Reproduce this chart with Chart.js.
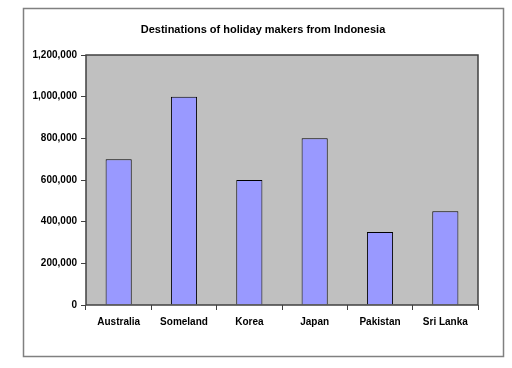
<!DOCTYPE html>
<html>
<head>
	<meta charset="utf-8">
	<title>Destinations of holiday makers from Indonesia</title>
	<script src="https://cdn.jsdelivr.net/npm/chart.js@4.4.0/dist/chart.umd.min.js"></script>
	<style>
		body { margin: 0; background: #fff; }
	</style>
</head>
<body>

	<canvas id="mychart" width="512" height="368"></canvas>

	<script type="text/javascript">

		const countries = ['Australia', 'Someland', 'Korea', 'Japan', 'Pakistan', 'Sri Lanka'];
		const visitors = [700000, 1000000, 600000, 800000, 350000, 450000];
		const chartTitle = 'Destinations of holiday makers from Indonesia';

		// frame round the whole chart, grey plot area with its border, and the title
		// (title drawn here because it is centred on the outer frame, not on the plot)
		const framePlugin = {
			id: 'frame',
			beforeDraw(chart) {
				const ctx = chart.ctx;
				const a = chart.chartArea;
				ctx.save();
				ctx.fillStyle = '#c0c0c0';
				ctx.fillRect(a.left, a.top, a.right - a.left, a.bottom - a.top);
				ctx.strokeStyle = '#808080';
				ctx.lineWidth = 1.5;
				ctx.strokeRect(23.5, 8.5, 480, 348);
				ctx.restore();
			},
			afterDatasetsDraw(chart) {
				const ctx = chart.ctx;
				const a = chart.chartArea;
				ctx.save();
				ctx.strokeStyle = '#404040';
				ctx.lineWidth = 1.5;
				ctx.strokeRect(a.left, a.top, a.right - a.left, a.bottom - a.top);
				ctx.restore();
			},
			afterDraw(chart) {
				const ctx = chart.ctx;
				ctx.save();
				ctx.fillStyle = '#000';
				ctx.font = 'bold 11px "Liberation Sans"';
				ctx.textAlign = 'center';
				ctx.textBaseline = 'middle';
				ctx.fillText(chartTitle, 263, 30);
				ctx.restore();
			}
		};

		const ctx = document.getElementById('mychart').getContext('2d');

		const myChart = new Chart(ctx, {
			type: 'bar',
			data: {
				labels: countries,
				datasets: [{
					data: visitors,
					backgroundColor: '#9999ff',
					borderColor: '#000000',
					borderWidth: 1,
					barPercentage: 0.4,
					categoryPercentage: 1
				}]
			},
			options: {
				responsive: false,
				animation: false,
				layout: { padding: { left: 0, right: 34, top: 55, bottom: 0 } },
				plugins: {
					legend: { display: false },
					tooltip: { enabled: false },
					title: { display: false }
				},
				scales: {
					x: {
						afterFit(scale) { scale.height = 63; },
						border: { display: false },
						grid: { drawOnChartArea: false, tickLength: 5, color: '#404040', lineWidth: 1 },
						ticks: {
							color: '#000',
							padding: 6,
							maxRotation: 0,
							font: { family: 'Liberation Sans', size: 10, weight: 'bold' }
						}
					},
					y: {
						min: 0,
						max: 1200000,
						afterFit(scale) { scale.width = 86; },
						border: { display: false },
						grid: { drawOnChartArea: false, tickLength: 5, color: '#404040', lineWidth: 1 },
						ticks: {
							stepSize: 200000,
							color: '#000',
							padding: 4,
							font: { family: 'Liberation Sans', size: 10, weight: 'bold' },
							callback: v => v.toLocaleString('en-US')
						}
					}
				}
			},
			plugins: [framePlugin]
		});

	</script>

</body>
</html>
